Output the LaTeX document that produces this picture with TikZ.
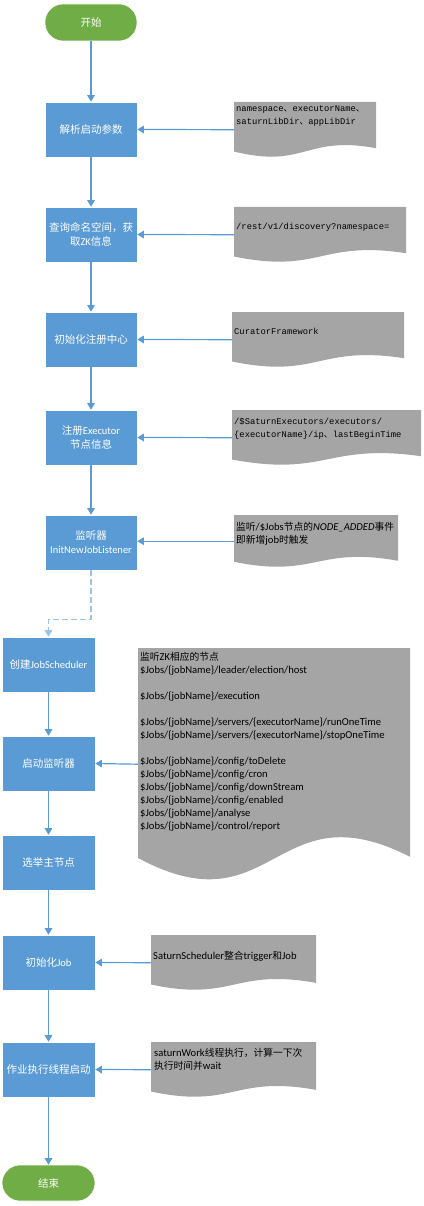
\documentclass[tikz,border=0pt]{standalone}
\usepackage{fontspec}
\setmainfont{Carlito}
\newfontfamily\cjk{Noto Sans CJK SC}
\newfontfamily\cjks[Scale=0.92]{Noto Sans CJK SC}
\newfontfamily\monof{Liberation Mono}
\usetikzlibrary{arrows.meta}
\definecolor{boxblue}{HTML}{5B9BD5}
\definecolor{startgreen}{HTML}{70AD47}
\definecolor{docgray}{HTML}{A5A5A5}
\definecolor{lineblue}{HTML}{5B9BD5}
\definecolor{dashblue}{HTML}{9DC3E6}
\tikzset{
  proc/.style={rectangle, fill=boxblue, draw=white, line width=0.6pt,
    minimum width=92pt, minimum height=55pt, text=white, inner sep=1pt,
    font=\fontsize{10.5}{14}\selectfont, align=center},
  term/.style={rectangle, rounded corners=18pt, fill=startgreen, draw=white,
    line width=0.6pt, minimum width=92pt, minimum height=37pt, text=white,
    font=\cjk\fontsize{10.5}{14}\selectfont},
  conn/.style={draw=lineblue, line width=1.2pt, -{Triangle[width=7.5pt,length=6.5pt]}},
  dconn/.style={draw=dashblue, line width=1.2pt, dash pattern=on 6pt off 3pt,
    -{Triangle[width=7.5pt,length=6.5pt]}},
  monotext/.style={inner sep=0pt, anchor=north west, align=left,
    font=\monof\fontsize{8.8}{13}\selectfont},
  sanstext/.style={inner sep=0pt, anchor=north west, align=left,
    font=\fontsize{10.6}{13}\selectfont},
}
% name, x0, y0, w, h, left-end, right-end (fractions of h)
\newcommand\docshape[7]{%
  \pgfmathsetmacro\xa{#2}\pgfmathsetmacro\xb{#2+#4}\pgfmathsetmacro\ya{#3}%
  \pgfmathsetmacro\yl{#3+#6*#5}\pgfmathsetmacro\yr{#3+#7*#5}%
  \pgfmathsetmacro\cx{#2+0.5*#4}\pgfmathsetmacro\cyu{#3+0.6*#5}\pgfmathsetmacro\cyd{#3+1.22*#5}%
  \fill[docgray] (\xa,\ya) -- (\xb,\ya) -- (\xb,\yr) .. controls (\cx,\cyu) and (\cx,\cyd) .. (\xa,\yl) -- cycle;
  \node[inner sep=0pt, minimum width=#4pt, minimum height=#5pt, anchor=north west] (#1) at (\xa,\ya) {};
}
\begin{document}
\begin{tikzpicture}[x=1pt,y=-1pt]
\useasboundingbox (0,0) rectangle (423,1206);
% documents
\docshape{d1}{234}{102}{142}{55}{0.9}{0.84}
\docshape{d2}{234}{207}{172}{55}{0.9}{0.84}
\docshape{d3}{232}{312}{172}{55}{0.9}{0.84}
\docshape{d4}{232}{410}{189}{55}{0.9}{0.84}
\docshape{d5}{234}{515}{164}{52}{0.9}{0.88}
\docshape{d6}{138}{648}{272}{232}{0.905}{0.9}
\docshape{d9}{151}{935}{165}{55}{0.9}{0.87}
\docshape{d10}{151}{1042}{165}{55}{0.9}{0.87}
\node[monotext] (t1) at (236,105) {namespace{\cjk 、}executorName{\cjk 、}\\saturnLibDir{\cjk 、}appLibDir};
\node[monotext] (t2) at (236,223) {/rest/v1/discovery?namespace=};
\node[monotext] (t3) at (234,328) {CuratorFramework};
\node[monotext] (t4) at (234,418) {/\$SaturnExecutors/executors/\\\{executorName\}/ip{\cjk 、}lastBeginTime};
\node[sanstext] (t5) at (236,522) {{\cjks 监听}/\$Jobs{\cjks 节点的}\textit{NODE\_ADDED}{\cjks 事件}\\{\cjks 即新增}job{\cjks 时触发}};
\node[sanstext] (t6) at (140,652) {{\cjks 监听}ZK{\cjks 相应的节点}\\
\$Jobs/\{jobName\}/leader/election/host\\[13pt]
\$Jobs/\{jobName\}/execution\\[13pt]
\$Jobs/\{jobName\}/servers/\{executorName\}/runOneTime\\
\$Jobs/\{jobName\}/servers/\{executorName\}/stopOneTime\\[13pt]
\$Jobs/\{jobName\}/config/toDelete\\
\$Jobs/\{jobName\}/config/cron\\
\$Jobs/\{jobName\}/config/downStream\\
\$Jobs/\{jobName\}/config/enabled\\
\$Jobs/\{jobName\}/analyse\\
\$Jobs/\{jobName\}/control/report};
\node[sanstext] (t9) at (153,951) {SaturnScheduler{\cjks 整合}trigger{\cjks 和}Job};
\node[sanstext] (t10) at (154,1048) {saturnWork{\cjks 线程执行，计算一下次}\\{\cjks 执行时间并}wait};
% process nodes
\node[term] (start) at (91,22.5) {开始};
\node[proc] (b1) at (91,129.5) {{\cjk 解析启动参数}};
\node[proc] (b2) at (91,234.5) {{\cjk 查询命名空间，获}\\{\cjk 取}ZK{\cjk 信息}};
\node[proc] (b3) at (91,339.5) {{\cjk 初始化注册中心}};
\node[proc] (b4) at (91,437.5) {{\cjk 注册}Executor\\{\cjk 节点信息}};
\node[proc] (b5) at (91,542.5) {{\cjk 监听器}\\InitNewJobListener};
\node[proc, minimum width=93pt] (b6) at (48.5,664.5) {{\cjk 创建}JobScheduler};
\node[proc, minimum width=93pt] (b7) at (48.5,763.5) {{\cjk 启动监听器}};
\node[proc, minimum width=93pt] (b8) at (48.5,862.5) {{\cjk 选举主节点}};
\node[proc, minimum width=93pt] (b9) at (48.5,962.5) {{\cjk 初始化}Job};
\node[proc, minimum width=93pt] (b10) at (48.5,1069.5) {{\cjk 作业执行线程启动}};
\node[term, minimum width=93pt, minimum height=36pt] (end) at (48.5,1183) {结束};
% connectors
\draw[conn] (start) -- (b1);
\draw[conn] (b1) -- (b2);
\draw[conn] (b2) -- (b3);
\draw[conn] (b3) -- (b4);
\draw[conn] (b4) -- (b5);
\draw[dconn] (b5.south) -- ++(0,49) -| (b6.north);
\draw[conn] (b6) -- (b7);
\draw[conn] (b7) -- (b8);
\draw[conn] (b8) -- (b9);
\draw[conn] (b9) -- (b10);
\draw[conn] (b10) -- (end);
\draw[conn] (d1.west) -- (b1.east);
\draw[conn] (d2.west) -- (b2.east);
\draw[conn] (d3.west) -- (b3.east);
\draw[conn] (d4.west) -- (b4.east);
\draw[conn] (d5.west) -- (d5.west -| b5.east);
\draw[conn] (d6.west) -- (b7.east);
\draw[conn] (d9.west) -- (b9.east);
\draw[conn] (d10.west) -- (b10.east);
\end{tikzpicture}
\end{document}
